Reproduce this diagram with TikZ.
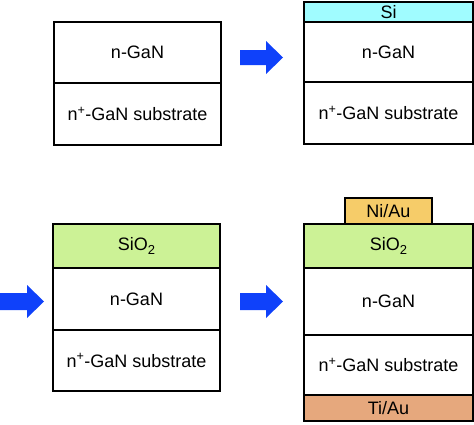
\documentclass[tikz,border=0pt]{standalone}
\usepackage{fontspec}
\setmainfont{Liberation Sans}
\definecolor{sicol}{RGB}{160,252,255}
\definecolor{oxcol}{RGB}{204,242,150}
\definecolor{nicol}{RGB}{246,204,105}
\definecolor{ticol}{RGB}{230,168,125}
\definecolor{arrcol}{RGB}{15,65,250}
\newcommand{\mysubtwo}{\raisebox{-0.35ex}{\fontsize{13}{14}\selectfont 2}}
\begin{document}
\begin{tikzpicture}[x=1pt,y=-1pt,
  layer/.style={draw=black, line width=1.3pt, inner sep=0pt, outer sep=0pt,
    rectangle, anchor=north west, font=\fontsize{18}{20}\selectfont},
  bluearrow/.style={fill=arrcol, draw=none}]
\useasboundingbox (0,0) rectangle (474,424);
% Step 1
\node[layer, minimum width=167pt, minimum height=61pt] (a1) at (54,22) {n-GaN};
\node[layer, minimum width=167pt, minimum height=62pt] (a2) at (54,83) {n\textsuperscript{+}-GaN substrate};
% Step 2
\node[layer, fill=sicol, minimum width=169pt, minimum height=20pt] (b0) at (304,2) {Si};
\node[layer, minimum width=169pt, minimum height=60pt] (b1) at (304,22) {n-GaN};
\node[layer, minimum width=169pt, minimum height=62pt] (b2) at (304,82) {n\textsuperscript{+}-GaN substrate};
% Step 3
\node[layer, fill=oxcol, minimum width=167pt, minimum height=44pt] (c0) at (53,224) {SiO\mysubtwo};
\node[layer, minimum width=167pt, minimum height=62pt] (c1) at (53,268) {n-GaN};
\node[layer, minimum width=167pt, minimum height=61pt] (c2) at (53,330) {n\textsuperscript{+}-GaN substrate};
% Step 4
\node[layer, fill=nicol, minimum width=87pt, minimum height=26pt] (d00) at (345,198) {Ni/Au};
\node[layer, fill=oxcol, minimum width=169pt, minimum height=44pt] (d0) at (304,224) {SiO\mysubtwo};
\node[layer, minimum width=169pt, minimum height=67pt] (d1) at (304,268) {n-GaN};
\node[layer, minimum width=169pt, minimum height=60pt] (d2) at (304,335) {n\textsuperscript{+}-GaN substrate};
\node[layer, fill=ticol, minimum width=169pt, minimum height=26pt] (d3) at (304,395) {Ti/Au};
% Arrows
\fill[bluearrow] (240,50) -- (266,50) -- (266,41) -- (283,57.5) -- (266,74) -- (266,65) -- (240,65) -- cycle;
\fill[bluearrow] (0,293) -- (27,293) -- (27,285) -- (44,301.5) -- (27,318) -- (27,310) -- (0,310) -- cycle;
\fill[bluearrow] (240,293) -- (266,293) -- (266,285) -- (283,301.5) -- (266,318) -- (266,310) -- (240,310) -- cycle;
\end{tikzpicture}
\end{document}
